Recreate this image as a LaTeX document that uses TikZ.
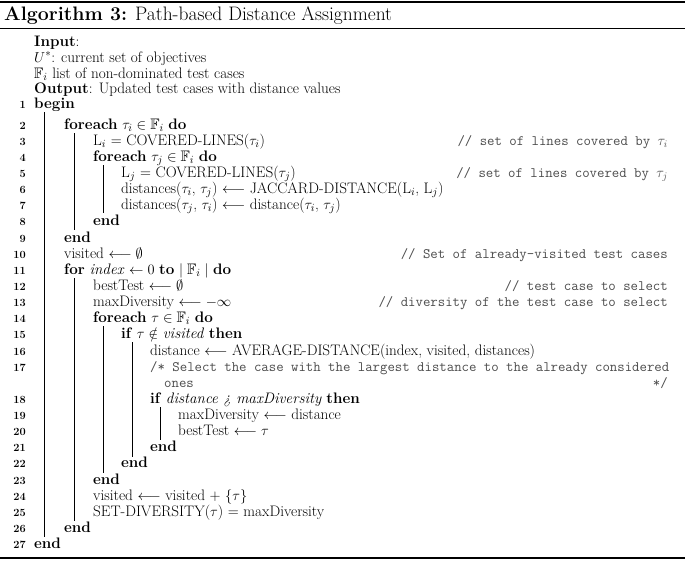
\documentclass[tikz,border=0pt]{standalone}
\usepackage{amsmath,amssymb}
\begin{document}
\begin{tikzpicture}[x=1pt,y=-1pt,
  t/.style={anchor=base west,inner sep=0,font=\fontsize{15.2}{17}\selectfont},
  num/.style={anchor=base east,inner sep=0,font=\fontsize{11}{13}\selectfont\bfseries},
  cmt/.style={anchor=base east,inner sep=0,text=black!70,font=\fontsize{14.4}{16}\selectfont\ttfamily},
  vl/.style={line width=0.8pt}]
\useasboundingbox (0,0) rectangle (685,563);
\draw[line width=1.2pt] (0,2) -- (685,2);
\draw[line width=0.8pt] (0,28) -- (685,28);
\draw[line width=1.2pt] (0,558) -- (685,558);
\node[t,font=\fontsize{19.5}{21}\selectfont] (title) at (4,20) {\textbf{Algorithm 3:} Path-based Distance Assignment};
\node[t] (in) at (34,46) {\textbf{Input}:};
\node[t] (u) at (34,62) {$U^*$: current set of objectives};
\node[t] (f) at (34,78) {$\mathbb{F}_i$ list of non-dominated test cases};
\node[t] (out) at (34,93) {\textbf{Output}: Updated test cases with distance values};
\foreach \n/\y in {1/108,2/129,3/145,4/161,5/177,6/193,7/209,8/225,9/242,10/258,11/274,12/290,13/306,14/322,15/338,16/355,17/371,18/403,19/419,20/435,21/451,22/467,23/484,24/500,25/516,26/532,27/548}
  \node[num] (n\n) at (26,\y) {\n};
\node[t] (l1) at (34,108) {\textbf{begin}};
\node[t] (l2) at (64,129) {\textbf{foreach} $\tau_i \in \mathbb{F}_i$ \textbf{do}};
\node[t] (l3) at (93,145) {L$_i$ = COVERED-LINES($\tau_i$)};
\node[cmt] (c3) at (668,145) {// set of lines covered by $\tau_i$};
\node[t] (l4) at (93,161) {\textbf{foreach} $\tau_j \in \mathbb{F}_i$ \textbf{do}};
\node[t] (l5) at (121,177) {L$_j$ = COVERED-LINES($\tau_j$)};
\node[cmt] (c5) at (668,177) {// set of lines covered by $\tau_j$};
\node[t] (l6) at (121,193) {distances($\tau_i$, $\tau_j$) $\longleftarrow$ JACCARD-DISTANCE(L$_i$, L$_j$)};
\node[t] (l7) at (121,209) {distances($\tau_j$, $\tau_i$) $\longleftarrow$ distance($\tau_i$, $\tau_j$)};
\node[t] (l8) at (93,225) {\textbf{end}};
\node[t] (l9) at (64,242) {\textbf{end}};
\node[t] (l10) at (64,258) {visited $\longleftarrow \emptyset$};
\node[cmt] (c10) at (668,258) {// Set of already-visited test cases};
\node[t] (l11) at (64,274) {\textbf{for} \textit{index} $\leftarrow 0$ \textbf{to} $\mid \mathbb{F}_i \mid$ \textbf{do}};
\node[t] (l12) at (93,290) {bestTest $\longleftarrow \emptyset$};
\node[cmt] (c12) at (668,290) {// test case to select};
\node[t] (l13) at (93,306) {maxDiversity $\longleftarrow -\infty$};
\node[cmt] (c13) at (668,306) {// diversity of the test case to select};
\node[t] (l14) at (93,322) {\textbf{foreach} $\tau \in \mathbb{F}_i$ \textbf{do}};
\node[t] (l15) at (121,338) {\textbf{if} $\tau \notin$ \textit{visited} \textbf{then}};
\node[t] (l16) at (150,355) {distance $\longleftarrow$ AVERAGE-DISTANCE(index, visited, distances)};
\node[cmt,anchor=base west] (l17) at (150,371) {/* Select the case with the largest distance to the already considered};
\node[cmt,anchor=base west] (l17b) at (164,387) {ones};
\node[cmt] (c17) at (668,387) {*/};
\node[t] (l18) at (150,403) {\textbf{if} \textit{distance ¿ maxDiversity} \textbf{then}};
\node[t] (l19) at (178,419) {maxDiversity $\longleftarrow$ distance};
\node[t] (l20) at (178,435) {bestTest $\longleftarrow \tau$};
\node[t] (l21) at (150,451) {\textbf{end}};
\node[t] (l22) at (121,467) {\textbf{end}};
\node[t] (l23) at (93,484) {\textbf{end}};
\node[t] (l24) at (93,500) {visited $\longleftarrow$ visited + $\{\tau\}$};
\node[t] (l25) at (93,516) {SET-DIVERSITY($\tau$) = maxDiversity};
\node[t] (l26) at (64,532) {\textbf{end}};
\node[t] (l27) at (34,548) {\textbf{end}};
\draw[vl] (44,112) -- (44,537);
\draw[vl] (74,133) -- (74,230);
\draw[vl] (103,165) -- (103,213);
\draw[vl] (74,278) -- (74,521);
\draw[vl] (103,326) -- (103,473);
\draw[vl] (132,342) -- (132,457);
\draw[vl] (160,407) -- (160,440);
\end{tikzpicture}
\end{document}
